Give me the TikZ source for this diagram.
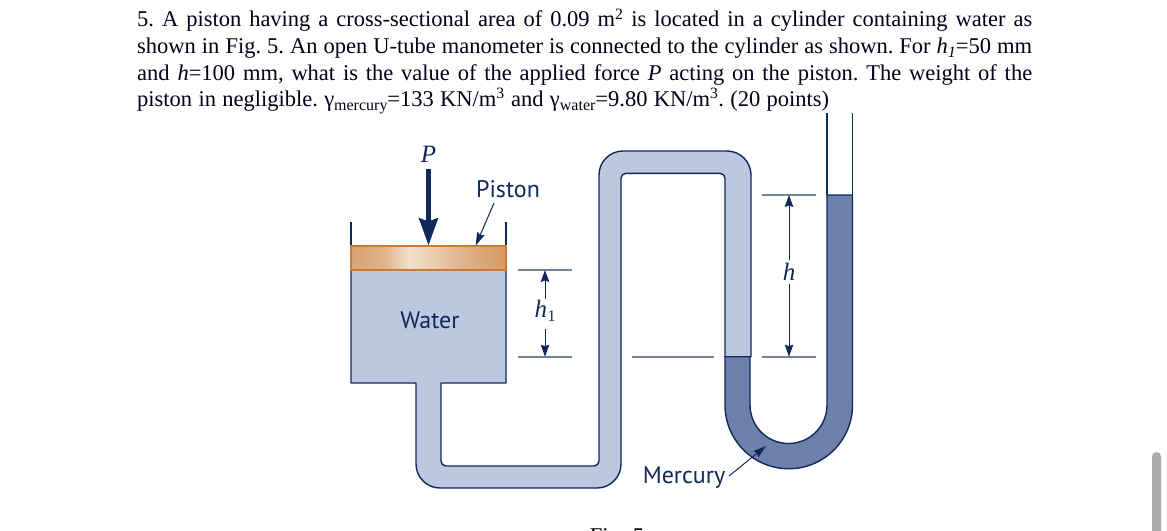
\documentclass[tikz,border=0pt]{standalone}
\usepackage{fontspec}
\setmainfont{Liberation Serif}
\newfontfamily\labfont{PT Sans}
\usetikzlibrary{arrows.meta}
\definecolor{waterc}{HTML}{BCC7E0}
\definecolor{mercc}{HTML}{6E7FA9}
\definecolor{navyc}{HTML}{10295A}
\definecolor{dimc}{HTML}{71859B}
\definecolor{pistedge}{HTML}{C97C34}
\pgfdeclarehorizontalshading{pistonshade}{100bp}{
 color(0bp)=(pistedge!70!white);
 color(25bp)=(pistedge!70!white);
 color(36bp)=(pistedge!58!white);
 color(43.5bp)=(pistedge!24!white);
 color(50bp)=(pistedge!36!white);
 color(61bp)=(pistedge!58!white);
 color(75bp)=(pistedge!78!white);
 color(100bp)=(pistedge!78!white)}
\newcommand{\bodyline}[1]{\makebox[895pt][s]{#1}}
\newcommand{\subtxt}[1]{\raisebox{-4pt}{\fontsize{16}{16}\selectfont #1}}
\tikzset{
 wall/.style={draw=navyc,line width=1.4pt,line join=round},
 reflevel/.style={draw=dimc,line width=1.6pt},
 dimarrow/.style={draw=navyc,line width=1pt,-{Stealth[length=12pt,width=8.5pt,inset=1.5pt]}},
 leader/.style={draw=navyc,line width=1pt,-{Stealth[length=13pt,width=8pt,inset=1.5pt]}},
 bodytext/.style={anchor=base west,inner sep=0pt,font=\fontsize{22.5}{24}\selectfont\frenchspacing,text=black!90!blue},
 labeltext/.style={text=navyc,inner sep=0pt,font=\labfont\fontsize{24}{26}\selectfont},
 symtext/.style={text=navyc,inner sep=0pt,font=\fontsize{25}{26}\selectfont\itshape}
}
\begin{document}
\begin{tikzpicture}[x=1pt,y=-1pt]
\useasboundingbox (0,0) rectangle (1167,530);
\fill[white] (0,0) rectangle (1167,530);
% body text
\node[bodytext] (l1) at (137,27) {\bodyline{5. A piston having a cross-sectional area of 0.09 m\textsuperscript{2} is located in a cylinder containing water as}};
\node[bodytext] (l2) at (137,53) {\bodyline{shown in Fig. 5. An open U-tube manometer is connected to the cylinder as shown. For \textit{h\subtxt{1}}=50 mm}};
\node[bodytext] (l3) at (137,80) {\bodyline{and \textit{h}=100 mm, what is the value of the applied force \textit{P} acting on the piston. The weight of the}};
\node[bodytext] (l4) at (137,106) {\makebox[692pt][s]{piston in negligible. γ\subtxt{mercury}=133 KN/m\textsuperscript{3} and γ\subtxt{water}=9.80 KN/m\textsuperscript{3}. (20 points)}};
% water and pipe
\path[wall,fill=waterc]
 (351,270) -- (506,270) -- (506,383) -- (441,383)
 [rounded corners=5pt] -- (441,466) -- (599,466)
 [rounded corners=24pt] -- (599,151) -- (751,151)
 [sharp corners] -- (751,356.7) -- (725,356.7)
 [rounded corners=5pt] -- (725,173.3) -- (621,173.3)
 [rounded corners=24pt] -- (621,488) -- (416,488)
 [sharp corners] -- (416,383) -- (351,383) -- cycle;
% mercury
\path[wall,fill=mercc]
 (725,356.7) -- (725,405) arc[start angle=180,end angle=360,radius=63.75pt]
 -- (852.5,195) -- (827,195) -- (827,405)
 arc[start angle=0,end angle=-180,radius=38.5pt]
 -- (750,356.7) -- cycle;
% open limb and cylinder walls
\draw[wall] (827,195) -- (827,113);
\draw[wall] (852.5,195) -- (852.5,113);
\draw[wall] (351,246) -- (351,221.7);
\draw[wall] (506,246) -- (506,221.7);
% piston
\path[shading=pistonshade,draw=pistedge,line width=1.8pt] (351,246) rectangle (506,270);
% reference lines
\coordinate (hTop) at (789,195);
\coordinate (hBot) at (789,356.7);
\coordinate (hOneTop) at (545,270);
\coordinate (hOneBot) at (545,356.7);
\draw[reflevel] (761.7,195) -- (816,195);
\draw[reflevel] (761.7,356.7) -- (816,356.7);
\draw[reflevel] (517.7,270) -- (572,270);
\draw[reflevel] (517.7,356.7) -- (572,356.7);
\draw[reflevel] (632,356.7) -- (714,356.7);
% labels
\node[symtext] (labP) at (428.5,154) {P};
\node[labeltext] (labPiston) at (508,189) {Piston};
\node[labeltext] (labWater) at (430,320.5) {Water};
\node[labeltext] (labMerc) at (684,478) {Mercury};
\node[symtext] (labh) at (789,272) {h};
\node[symtext] (labhone) at (545,311) {h\kern0.5pt\raisebox{-4pt}{\upshape\fontsize{16}{16}\selectfont 1}};
\node[inner sep=0pt,anchor=base,font=\fontsize{22.5}{24}\selectfont] (figcap) at (617,543.5) {Fig. 5};
% arrows
\coordinate (pStart) at (428.5,169);
\coordinate (pTip) at (428.5,245.5);
\draw[draw=navyc,line width=5.5pt,-{Stealth[length=27pt,width=18.5pt,inset=3pt]}] (pStart) -- (pTip);
\coordinate (pisStart) at (494,203);
\coordinate (pisTip) at (475.7,245.5);
\draw[leader] (pisStart) -- (pisTip);
\coordinate (merStart) at (729,476);
\coordinate (merTip) at (766,446);
\draw[leader] (merStart) -- (merTip);
\draw[dimarrow] (labh.north) ++(0,-3) -- (hTop);
\draw[dimarrow] (labh.south) ++(0,3) -- (hBot);
\draw[dimarrow] (labhone.north) ++(0,-1) -- (hOneTop);
\draw[dimarrow] (labhone.south) ++(0,7) -- (hOneBot);
% scrollbar
\fill[black!33,rounded corners=4.5pt] (1152,452) rectangle (1161,545);
\end{tikzpicture}
\end{document}
